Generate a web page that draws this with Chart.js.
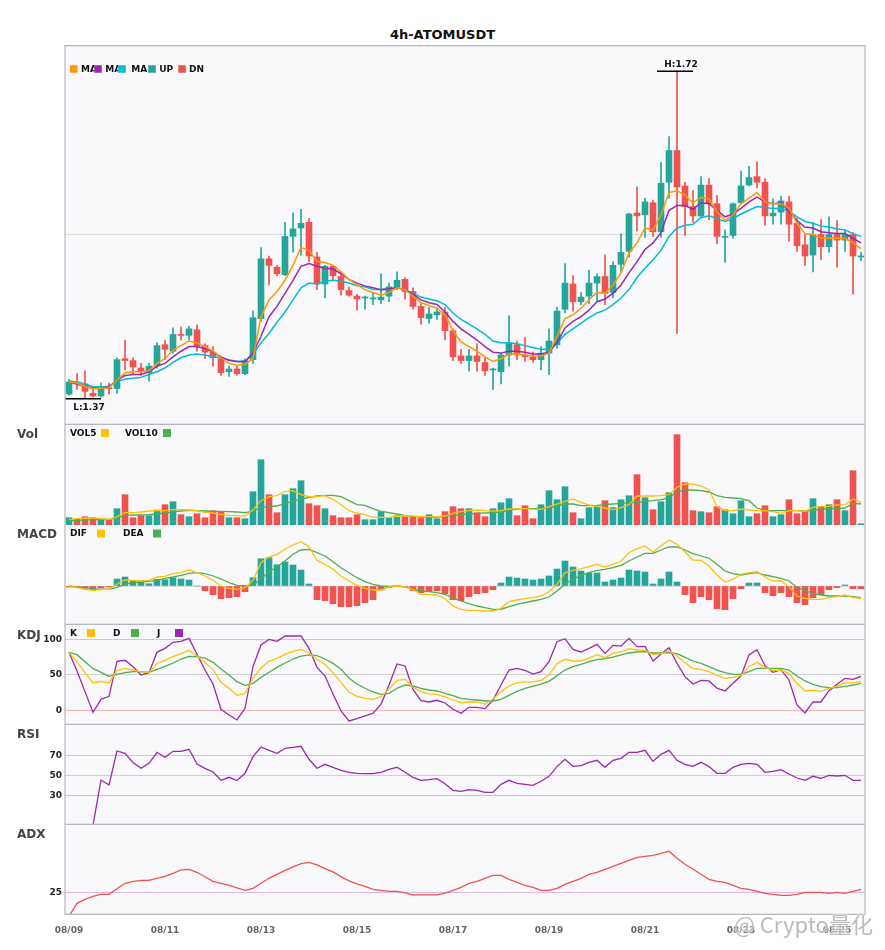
<!DOCTYPE html>
<html>
<head>
<meta charset="utf-8">
<script src="https://cdn.jsdelivr.net/npm/chart.js@4.4.0/dist/chart.umd.min.js"></script>
<style>
  body { margin: 0; background: #fff; font-family: "DejaVu Sans", sans-serif; }
  #wrap { position: relative; width: 885px; height: 950px; overflow: hidden; }
  .pane { position: absolute; left: 0; width: 885px; }
  .lbl { position: absolute; left: 17px; font-weight: bold; font-size: 12px; line-height: 14px; color: #444; }
  #title { position: absolute; top: 27px; left: 0; width: 885px; text-align: center; font-weight: bold; font-size: 13px; line-height: 16px; color: #111; }
  #mark { position: absolute; left: 734px; top: 911px; font-family: "Noto Sans CJK SC", sans-serif; font-size: 22px; line-height: 24px; white-space: nowrap; color: rgba(165,165,165,0.75); text-shadow: 0 0 2px #fff, 0 0 2px #fff; pointer-events: none; }
</style>
</head>
<body>
<div id="wrap">
  <div id="title">4h-ATOMUSDT</div>
  <div class="pane" style="top:45px;height:380px"><canvas id="cMain"></canvas></div>
  <div class="pane" style="top:425px;height:100px"><canvas id="cVol"></canvas></div>
  <div class="pane" style="top:525px;height:100px"><canvas id="cMacd"></canvas></div>
  <div class="pane" style="top:625px;height:100px"><canvas id="cKdj"></canvas></div>
  <div class="pane" style="top:725px;height:100px"><canvas id="cRsi"></canvas></div>
  <div class="pane" style="top:825px;height:110px"><canvas id="cAdx"></canvas></div>
  <div class="lbl" style="top:427px">Vol</div>
  <div class="lbl" style="top:527px">MACD</div>
  <div class="lbl" style="top:628px">KDJ</div>
  <div class="lbl" style="top:727px">RSI</div>
  <div class="lbl" style="top:827px">ADX</div>
  <div id="mark">@ Crypto量化</div>
</div>
<script>
// 4h candles, 08/09 00:00 .. 08/25 12:00
var days = ['08/09','08/10','08/11','08/12','08/13','08/14','08/15','08/16','08/17',
            '08/18','08/19','08/20','08/21','08/22','08/23','08/24','08/25'];
var hours = ['00:00','04:00','08:00','12:00','16:00','20:00'];
var labels = [];
days.forEach(function (d) { hours.forEach(function (h) { labels.push(d + ' ' + h); }); });
labels = labels.slice(0, 100);

var opens = [1.374,1.387,1.385,1.375,1.372,1.381,1.380,1.412,1.410,1.402,
  1.397,1.405,1.427,1.420,1.438,1.437,1.443,1.426,1.419,1.412,
  1.398,1.401,1.396,1.411,1.455,1.519,1.510,1.502,1.543,1.552,
  1.558,1.521,1.492,1.511,1.500,1.485,1.479,1.477,1.476,1.475,
  1.479,1.489,1.497,1.484,1.468,1.455,1.459,1.462,1.442,1.415,
  1.410,1.415,1.408,1.400,1.398,1.416,1.427,1.416,1.414,1.411,
  1.418,1.427,1.465,1.492,1.473,1.479,1.493,1.500,1.483,1.513,
  1.527,1.568,1.566,1.579,1.548,1.601,1.635,1.597,1.575,1.565,
  1.598,1.578,1.542,1.544,1.579,1.598,1.607,1.601,1.565,1.569,
  1.580,1.557,1.534,1.523,1.545,1.532,1.545,1.539,1.545,1.521];
var highs = [1.390,1.396,1.399,1.381,1.386,1.386,1.413,1.432,1.413,1.407,
  1.407,1.429,1.432,1.445,1.446,1.447,1.448,1.428,1.425,1.414,
  1.404,1.404,1.412,1.463,1.531,1.522,1.512,1.558,1.568,1.572,
  1.562,1.526,1.512,1.512,1.505,1.489,1.481,1.479,1.482,1.503,
  1.493,1.505,1.499,1.488,1.471,1.467,1.467,1.467,1.444,1.422,
  1.422,1.428,1.413,1.402,1.418,1.458,1.431,1.435,1.419,1.425,
  1.444,1.467,1.514,1.501,1.483,1.507,1.503,1.523,1.516,1.546,
  1.568,1.596,1.584,1.582,1.622,1.650,1.720,1.601,1.592,1.607,
  1.605,1.587,1.550,1.579,1.613,1.618,1.623,1.605,1.583,1.586,
  1.586,1.562,1.545,1.558,1.561,1.564,1.560,1.550,1.547,1.526];
var lows = [1.373,1.379,1.369,1.371,1.371,1.374,1.375,1.400,1.396,1.394,
  1.388,1.402,1.411,1.418,1.432,1.432,1.420,1.412,1.404,1.394,
  1.393,1.394,1.395,1.407,1.452,1.491,1.501,1.501,1.526,1.523,
  1.516,1.486,1.477,1.496,1.480,1.479,1.464,1.465,1.470,1.471,
  1.473,1.486,1.476,1.465,1.449,1.450,1.454,1.432,1.410,1.407,
  1.399,1.399,1.394,1.379,1.385,1.404,1.411,1.409,1.408,1.400,
  1.395,1.423,1.461,1.463,1.470,1.471,1.473,1.470,1.477,1.505,
  1.521,1.549,1.542,1.543,1.542,1.584,1.439,1.544,1.558,1.563,
  1.561,1.535,1.515,1.541,1.578,1.597,1.595,1.555,1.556,1.556,
  1.538,1.527,1.512,1.505,1.518,1.526,1.510,1.527,1.481,1.517];
var closes = [1.387,1.385,1.377,1.372,1.380,1.380,1.411,1.410,1.403,1.398,
  1.404,1.426,1.422,1.438,1.437,1.444,1.426,1.419,1.413,1.397,
  1.401,1.396,1.410,1.456,1.519,1.512,1.503,1.543,1.551,1.557,
  1.522,1.492,1.511,1.501,1.486,1.480,1.476,1.478,1.477,1.478,
  1.489,1.496,1.484,1.468,1.456,1.460,1.462,1.442,1.414,1.410,
  1.415,1.409,1.399,1.401,1.416,1.429,1.416,1.414,1.411,1.418,
  1.431,1.463,1.493,1.473,1.478,1.493,1.500,1.482,1.512,1.526,
  1.567,1.565,1.580,1.548,1.600,1.635,1.596,1.575,1.565,1.598,
  1.578,1.543,1.543,1.578,1.597,1.606,1.601,1.565,1.568,1.581,
  1.556,1.533,1.522,1.545,1.532,1.545,1.539,1.545,1.522,1.522];

var ma5 = [1.387,1.386,1.382,1.380,1.380,1.381,1.389,1.397,1.398,1.398,
  1.399,1.407,1.412,1.421,1.426,1.431,1.429,1.425,1.420,1.413,
  1.407,1.405,1.406,1.412,1.457,1.475,1.484,1.496,1.512,1.531,
  1.528,1.516,1.515,1.512,1.505,1.497,1.491,1.486,1.483,1.480,
  1.483,1.488,1.486,1.479,1.472,1.469,1.466,1.459,1.442,1.430,
  1.425,1.420,1.414,1.409,1.412,1.417,1.417,1.416,1.415,1.415,
  1.418,1.436,1.455,1.459,1.466,1.475,1.483,1.482,1.491,1.504,
  1.525,1.536,1.552,1.550,1.566,1.590,1.592,1.587,1.579,1.585,
  1.583,1.570,1.560,1.566,1.578,1.584,1.590,1.580,1.578,1.578,
  1.573,1.557,1.546,1.545,1.541,1.541,1.541,1.541,1.536,1.530];
var ma10 = [1.387,1.385,1.382,1.381,1.380,1.382,1.389,1.394,1.395,1.395,
  1.398,1.404,1.407,1.414,1.420,1.425,1.425,1.423,1.419,1.414,
  1.410,1.409,1.409,1.418,1.436,1.457,1.468,1.482,1.496,1.511,
  1.514,1.511,1.509,1.508,1.503,1.497,1.493,1.490,1.488,1.486,
  1.487,1.488,1.486,1.481,1.475,1.472,1.470,1.462,1.452,1.444,
  1.438,1.432,1.425,1.419,1.418,1.420,1.420,1.419,1.417,1.417,
  1.419,1.429,1.445,1.452,1.457,1.464,1.473,1.476,1.482,1.491,
  1.504,1.516,1.529,1.536,1.547,1.571,1.576,1.576,1.572,1.579,
  1.578,1.571,1.564,1.567,1.573,1.580,1.585,1.580,1.578,1.579,
  1.570,1.560,1.553,1.552,1.548,1.547,1.546,1.546,1.541,1.536];
var ma20 = [1.388,1.387,1.385,1.382,1.382,1.382,1.388,1.390,1.391,1.392,
  1.395,1.398,1.402,1.408,1.413,1.416,1.417,1.416,1.414,1.413,
  1.411,1.409,1.409,1.417,1.429,1.439,1.451,1.462,1.475,1.488,
  1.493,1.492,1.495,1.496,1.495,1.493,1.490,1.489,1.486,1.486,
  1.486,1.488,1.486,1.482,1.478,1.476,1.474,1.470,1.461,1.454,
  1.449,1.444,1.438,1.431,1.429,1.429,1.428,1.426,1.424,1.422,
  1.422,1.429,1.438,1.444,1.450,1.456,1.461,1.464,1.470,1.477,
  1.486,1.499,1.509,1.518,1.528,1.543,1.552,1.555,1.556,1.563,
  1.565,1.562,1.559,1.562,1.567,1.571,1.575,1.574,1.573,1.573,
  1.570,1.564,1.559,1.557,1.554,1.553,1.551,1.550,1.546,1.543];

// volume (relative units) and its averages
var vol = [73,60,83,73,53,47,163,303,73,93,
  93,150,203,233,103,83,113,73,143,133,
  73,73,63,333,653,303,123,303,363,443,
  213,193,163,93,73,73,103,53,53,133,
  73,93,83,83,73,103,63,133,183,163,
  163,123,83,163,223,263,93,193,63,203,
  343,253,383,123,63,173,183,243,173,253,
  293,503,273,153,233,323,903,423,143,133,
  123,183,153,113,243,83,113,193,83,103,
  253,113,133,263,183,203,253,143,543,13];
var vol5 = [57,63,70,70,63,57,83,123,123,130,
  140,143,143,153,153,150,143,127,120,107,
  97,93,90,150,243,283,293,337,343,303,
  283,283,293,257,203,143,120,103,77,77,
  77,87,90,90,83,83,83,90,117,133,
  143,150,143,140,143,160,163,163,157,157,
  183,210,237,260,227,200,187,170,153,173,
  203,290,290,290,293,303,377,410,410,390,
  353,183,143,143,160,150,143,143,133,117,
  143,143,137,177,183,187,200,203,260,227];
var vol10 = [43,47,50,53,55,57,70,97,100,100,
  103,110,120,133,140,147,143,140,137,137,
  133,130,123,137,177,183,190,217,237,260,
  277,290,297,297,283,243,203,197,163,137,
  123,110,93,83,83,80,80,87,97,103,
  110,117,120,123,130,150,160,167,163,167,
  170,190,210,210,193,193,197,203,210,217,
  223,223,237,243,253,270,333,350,350,343,
  330,293,277,270,263,243,170,147,143,143,
  143,143,140,143,160,163,163,170,217,210];

// MACD (x1e-4)
var macdHist = [-1,-1.3,-2.3,-3.7,-2,-1,7,9,5.7,5,
  2.3,6.7,6.3,8.3,7,6,0,-4.7,-8.7,-12.7,
  -11.7,-10.7,-5.7,8.3,27.3,28.3,21.3,24,21,16,
  2,-13.7,-14.7,-17.7,-20.7,-20.7,-19.7,-16.7,-13.7,-4,
  -1.7,0,-0.3,-4.7,-6.7,-5.7,-4.7,-7.7,-13.7,-14.7,
  -10.7,-7.7,-6.7,-3.7,3,9,8,7,6,7,
  10,17,25,19,15,13,13,4,6,8,
  16,15,14,2,7,14,4,-8.7,-16.7,-10.7,
  -13.7,-22.7,-23.7,-12.7,-2.7,3,3,-6.7,-9.7,-6.7,
  -10.7,-16.7,-18.7,-11.7,-8.7,-3.7,-1.7,1,-2.7,-2.7];
var dif = [0,-1.7,-3.3,-4.3,-3.7,-3,1.7,6,5.7,5,
  5.7,9,9.7,12.3,13.3,16,13.3,10,5.7,0,
  -2.3,-3.3,-1.7,5.7,23.3,29,31.7,36.7,41,44.3,
  39,25.7,21.7,16.7,10,5,0.7,-2.3,-4,-4,
  -1,0,-1,-3.7,-8.3,-8.7,-9,-12.7,-20,-23.3,
  -24.3,-24.3,-25,-25,-22.3,-15.7,-14,-12.7,-11.7,-10,
  -5.7,1.7,13.3,15.7,17.3,19.3,21.7,19,21.7,25,
  33.3,37.3,40,34,40,46,41.7,34,26,25.7,
  20,11,4,6.7,11.7,13.3,14.3,9,5,5,
  -0.7,-10,-12.3,-13.3,-13.3,-11.7,-10.7,-9,-11.7,-12.3];
var dea = [0,-1,-1.7,-2.7,-3.3,-3.3,-1.5,1.7,3.3,4,
  4.7,5.7,7.7,9,10.7,12.7,13.3,12.3,10,7,
  3.3,0.7,0.3,0.7,7.3,14,19.3,25,31.7,36,
  36.7,33.3,30,24.3,18.3,13.3,8.3,4.3,1.7,0,
  -0.3,0,-1,-3.3,-5,-5.7,-6.7,-8.3,-11.7,-15,
  -17.7,-20,-21.7,-23.3,-23.3,-20.7,-18.3,-16.7,-15,-13.3,
  -11,-5,1.7,6.7,10.7,13.3,15.7,16.7,18.3,20.7,
  25,29,32.7,32.7,36,39,39,36,32.3,30,
  27.7,21.7,15,12.3,11,12.3,13.3,11,9.3,7.7,
  5,-1.5,-4.3,-7.7,-9,-10,-10,-10,-10.7,-11.7];

var kLine = [81.6,68.5,53,38.5,40.8,38.5,55.8,59,56.7,54,
  53,66,70.4,75.5,79.7,84.4,76.4,67,57.7,39.4,
  31,21.1,23.9,45,60,69,73.2,78.8,83,85.8,
  80.7,71.8,64.7,53,38.9,25.8,19.7,16.9,15.5,19.2,
  30,42.2,43.6,32.4,26.3,23,22.5,18.8,14.5,10.8,
  11.7,11.7,8.4,15.9,26.3,34.2,38.5,39.9,39.9,42.2,
  49.7,65.7,71.8,69.4,69.4,73.6,78.3,74.1,80.2,82.1,
  86.8,84.9,84.4,78.3,79.7,84,76.4,67,59,57.7,
  54.4,49.2,45,46.4,48.8,61.4,67.5,60.5,55.8,56.7,
  52.1,38,27.2,28.1,26.7,31,34.2,38.5,38.5,40.8];
var dLine = [81.6,78.3,68.5,59,53.5,47.8,50.7,53,54.4,54.4,
  53.5,57.7,61.9,66.6,72.2,76,75.5,73.6,67.5,58.2,
  49.7,40.3,35.2,38,46.4,53.5,60.5,66.6,72.2,76.4,
  77.9,76.9,72.2,66.1,57.7,45.5,37,31,25.8,22.5,
  23.9,31,35.6,34.2,31,28.6,27.2,23.7,20.6,16.9,
  15.5,14.5,13.1,13.1,15.5,21.1,26.7,31,34.2,37,
  40.8,48.8,56.7,61.4,64.7,68.5,71.3,72.7,75,77.9,
  80.7,82.1,82.5,80.7,80.7,81.1,79.7,74.6,69.4,66.1,
  61.4,56.7,53,50.7,50.7,54.4,59,59,59,59,
  56.7,48.3,41.3,36.6,33.3,31.9,31.9,33.8,35.6,38];
var jLine = [81.6,55.3,26.3,-2.8,15.5,19.7,68.9,70.4,61.4,49.7,
  53,81.6,87.2,95.7,97.1,101.3,78.8,56.7,37,1.4,
  -6.6,-13.6,2.8,61.4,91.9,99.9,97.1,104.6,104.6,104.6,
  87.2,60.5,48.3,23,-0.9,-15,-11.7,-8,-4.2,8.4,
  35.6,65.2,62.4,29.5,13.6,11.7,14.1,10.3,1.4,-4.2,
  4.2,4.2,2.3,14.5,35.6,56.7,59,56.3,51.1,54.4,
  68.5,96.6,100.8,85.8,82.1,87.2,92.9,80.2,91.5,90.5,
  101.3,89.6,90,69.4,79.3,88.2,66.1,47.4,37,42.2,
  41.3,31,27.2,38,48.3,77.9,85.4,62.8,53.5,57.2,
  42.7,7.5,-3.8,11.7,11.7,27.7,36.6,45,43.6,47.8];

var rsi = [0,0,0,0,45.3,40.3,74.3,72,62.7,57,
  62,73,68,74,74,76,61.3,57,53.3,45,
  48,44.7,52,68.7,78.3,75,72,77,78,79,
  66,57,61,58,55,53,52,51.7,51.7,53,
  56,58,53,48,45,45.7,46.7,41.5,35,34,
  35.7,35,33,33,41,45,42,41,40,44,
  49,58.7,66,59,59.7,63,65,58,65,67,
  73,73,75,64,71,75,65,61,59,63,
  58.7,52,52,58,61,62,61,53,54,55.7,
  51.3,47.3,45,49,47,50,49.3,50,45,45];

var adx = [13,19.5,21.5,23,24,24,26.8,29.5,30.5,31,
  31,32,33,34.5,36.2,36.5,35,32.8,30.5,29.5,
  28.5,27.2,26,27,29.5,32,34,36,37.7,39.3,
  40,38.7,36.8,35.2,32.8,30.7,29.2,28,26.5,26,
  25.5,25.5,24.7,23.7,23.7,23.7,23.7,24.6,26,27.5,
  29.5,30.5,32,33.5,33.5,31.5,30,28.5,27.5,26,
  26,27,29,30.5,32,34,35,36.5,38,39.5,
  41,42.5,43,43.5,44.5,45.5,42,39,36.5,34,
  31.5,30.5,30,28.5,27,26.5,25.5,24.5,24,23.5,
  23.5,24,25,25,25,24.5,25,24.5,25.5,26.5];

var UP = '#26a69a', DN = '#ef5350';
var upDown = closes.map(function (c, i) { return c >= opens[i] ? UP : DN; });

Chart.defaults.font.family = '"DejaVu Sans", sans-serif';
Chart.defaults.animation = false;

// panel background and frame
var frame = {
  id: 'frame',
  beforeDraw: function (chart, args, o) {
    var a = chart.chartArea, c = chart.ctx;
    c.save();
    c.fillStyle = '#f9f9fb';
    c.fillRect(a.left, a.top, a.right - a.left, a.bottom - a.top);
    c.restore();
  },
  afterDraw: function (chart, args, o) {
    var a = chart.chartArea, c = chart.ctx;
    c.save();
    c.strokeStyle = '#b7b7bf';
    c.lineWidth = 1.2;
    c.beginPath();
    c.moveTo(a.left, a.top); c.lineTo(a.left, a.bottom);
    c.moveTo(a.right, a.top); c.lineTo(a.right, a.bottom);
    if (o.top) { c.moveTo(a.left, a.top + 0.6); c.lineTo(a.right, a.top + 0.6); }
    if (o.bottom) { c.moveTo(a.left, a.bottom - 0.6); c.lineTo(a.right, a.bottom - 0.6); }
    c.stroke();
    c.restore();
  }
};

// little legends in the panel corners
var panelLegend = {
  id: 'panelLegend',
  afterDraw: function (chart, args, o) {
    if (!o.items) return;
    var c = chart.ctx, bs = o.box || 8;
    c.save();
    c.font = 'bold 9px "DejaVu Sans"';
    c.textBaseline = 'middle';
    o.items.forEach(function (it) {
      c.save();
      if (it.clip) { c.beginPath(); c.rect(it.tx, 0, it.clip - it.tx, chart.height); c.clip(); }
      c.fillStyle = '#111';
      c.fillText(it.text, it.tx, o.y + 0.5);
      c.restore();
    });
    o.items.forEach(function (it) {
      c.fillStyle = it.color;
      c.fillRect(it.bx, o.y - bs / 2, bs, bs);
    });
    c.restore();
  }
};

// H / L marks on the price panel
var hiLo = {
  id: 'hiLo',
  afterDatasetsDraw: function (chart) {
    var xs = chart.scales.x, ys = chart.scales.y, c = chart.ctx;
    var hi = 0, lo = 0;
    highs.forEach(function (v, i) { if (v > highs[hi]) hi = i; });
    lows.forEach(function (v, i) { if (v < lows[lo]) lo = i; });
    c.save();
    c.strokeStyle = '#000';
    c.lineWidth = 1.5;
    c.fillStyle = '#111';
    c.font = 'bold 9px "DejaVu Sans"';
    c.textAlign = 'center';
    var hx = xs.getPixelForValue(hi), hy = ys.getPixelForValue(highs[hi]);
    c.beginPath(); c.moveTo(hx - 20, hy); c.lineTo(hx + 16, hy); c.stroke();
    c.textBaseline = 'bottom';
    c.fillText('H:' + highs[hi].toFixed(2), hx + 4, hy - 2);
    var lx = xs.getPixelForValue(lo), ly = ys.getPixelForValue(lows[lo]);
    c.beginPath(); c.moveTo(lx - 20, ly); c.lineTo(lx + 16, ly); c.stroke();
    c.textBaseline = 'top';
    c.fillText('L:' + lows[lo].toFixed(2), lx + 4, ly + 4);
    c.restore();
  }
};

function yAxis(min, max, lines, showLabels) {
  return {
    min: min, max: max,
    afterFit: function (s) { s.width = 65; s.paddingTop = 0; s.paddingBottom = 0; },
    afterBuildTicks: function (s) { s.ticks = lines.map(function (l) { return { value: l.v }; }); },
    grid: {
      display: lines.length > 0,
      drawTicks: false,
      lineWidth: 1,
      color: function (ctx) {
        if (!ctx.tick) return 'transparent';
        var l = lines.find(function (x) { return x.v === ctx.tick.value; });
        return l ? l.c : 'transparent';
      }
    },
    border: { display: false },
    ticks: { display: showLabels, padding: 3, color: '#222', font: { size: 9, weight: 'bold' },
      callback: function (v) { return v; } }
  };
}

function xAxis(show) {
  return {
    offset: true,
    display: show,
    grid: { display: false },
    border: { display: false },
    afterFit: function (s) { if (show) s.height = 20; s.paddingLeft = 0; s.paddingRight = 0; },
    ticks: {
      autoSkip: false, maxRotation: 0, padding: 2, color: '#666',
      font: { size: 9, weight: 'bold' },
      callback: function (v, i) { return i % 12 === 0 ? labels[i].slice(0, 5) : null; }
    }
  };
}

function panel(id, datasets, y, frameOpts, legendOpts, showX, extra) {
  return new Chart(document.getElementById(id), {
    type: 'bar',
    data: { labels: labels, datasets: datasets },
    options: {
      responsive: true,
      maintainAspectRatio: false,
      layout: { padding: { left: 0, right: 20, top: 0, bottom: 0 } },
      scales: { x: xAxis(showX), y: y },
      plugins: {
        legend: { display: false },
        tooltip: { enabled: false },
        frame: frameOpts,
        panelLegend: legendOpts
      }
    },
    plugins: [frame, panelLegend].concat(extra || [])
  });
}

function line(data, color, w) {
  return { type: 'line', data: data, borderColor: color, borderWidth: w || 1.3,
           pointRadius: 0, tension: 0, order: 0 };
}

// price panel
panel('cMain', [
  { data: lows.map(function (l, i) { return [l, highs[i]]; }), backgroundColor: upDown,
    barThickness: 1, grouped: false, order: 3 },
  { data: opens.map(function (o, i) { return [o, closes[i]]; }), backgroundColor: upDown,
    barThickness: 6, minBarLength: 1, grouped: false, order: 2 },
  line(ma5, '#ff9800', 1.5),
  line(ma10, '#9c27b0', 1.5),
  line(ma20, '#00bcd4', 1.5)
], yAxis(1.341, 1.748, [{ v: 1.545, c: '#dcdcdc' }], false),
  { top: true, bottom: true },
  { y: 24, box: 7.5, items: [
    { text: 'MA5', color: '#ff9800', bx: 70, tx: 81, clip: 94.3 },
    { text: 'MA10', color: '#9c27b0', bx: 94.3, tx: 105.3, clip: 118.3 },
    { text: 'MA20', color: '#00bcd4', bx: 118.3, tx: 131.3, clip: 148.3 },
    { text: 'UP', color: UP, bx: 148.3, tx: 159.3 },
    { text: 'DN', color: DN, bx: 178.3, tx: 189 }
  ] }, false, [hiLo]);

// volume
panel('cVol', [
  { data: vol, backgroundColor: upDown, barThickness: 6, grouped: false, order: 2 },
  line(vol5, '#ffc107'),
  line(vol10, '#4caf50')
], yAxis(0, 1000, [], false), {},
  { y: 8, items: [
    { text: 'VOL5', color: '#ffc107', tx: 70, bx: 101 },
    { text: 'VOL10', color: '#4caf50', tx: 125, bx: 163 }
  ] }, false);

// MACD
panel('cMacd', [
  { data: macdHist, backgroundColor: macdHist.map(function (v) { return v >= 0 ? UP : DN; }),
    barThickness: 6, grouped: false, order: 2 },
  line(dif, '#ffc107'),
  line(dea, '#4caf50')
], yAxis(-39, 61, [{ v: 0, c: '#dddddd' }], false), { bottom: true },
  { y: 8.5, items: [
    { text: 'DIF', color: '#ffc107', tx: 70, bx: 97 },
    { text: 'DEA', color: '#4caf50', tx: 123, bx: 153 }
  ] }, false);

// KDJ
panel('cKdj', [
  line(kLine, '#ffc107'),
  line(dLine, '#4caf50'),
  line(jLine, '#9c27b0')
], yAxis(-20.7, 120.1, [{ v: 100, c: '#a6dcd6' }, { v: 50, c: '#cfcfd4' }, { v: 0, c: '#f6b4b4' }], true),
  { bottom: true },
  { y: 8, items: [
    { text: 'K', color: '#ffc107', tx: 70, bx: 87 },
    { text: 'D', color: '#4caf50', tx: 113, bx: 131 },
    { text: 'J', color: '#9c27b0', tx: 157, bx: 175 }
  ] }, false);

// RSI
panel('cRsi', [
  line(rsi, '#9c27b0')
], yAxis(0.3, 100.3, [{ v: 70, c: '#a6dcd6' }, { v: 50, c: '#cfcfd4' }, { v: 30, c: '#f6b4b4' }], true),
  { bottom: true }, {}, false);

// ADX
panel('cAdx', [
  line(adx, '#ef5350')
], yAxis(13.65, 58.65, [{ v: 25, c: '#e2b6ea' }], true),
  { bottom: true }, {}, true);
</script>
</body>
</html>
